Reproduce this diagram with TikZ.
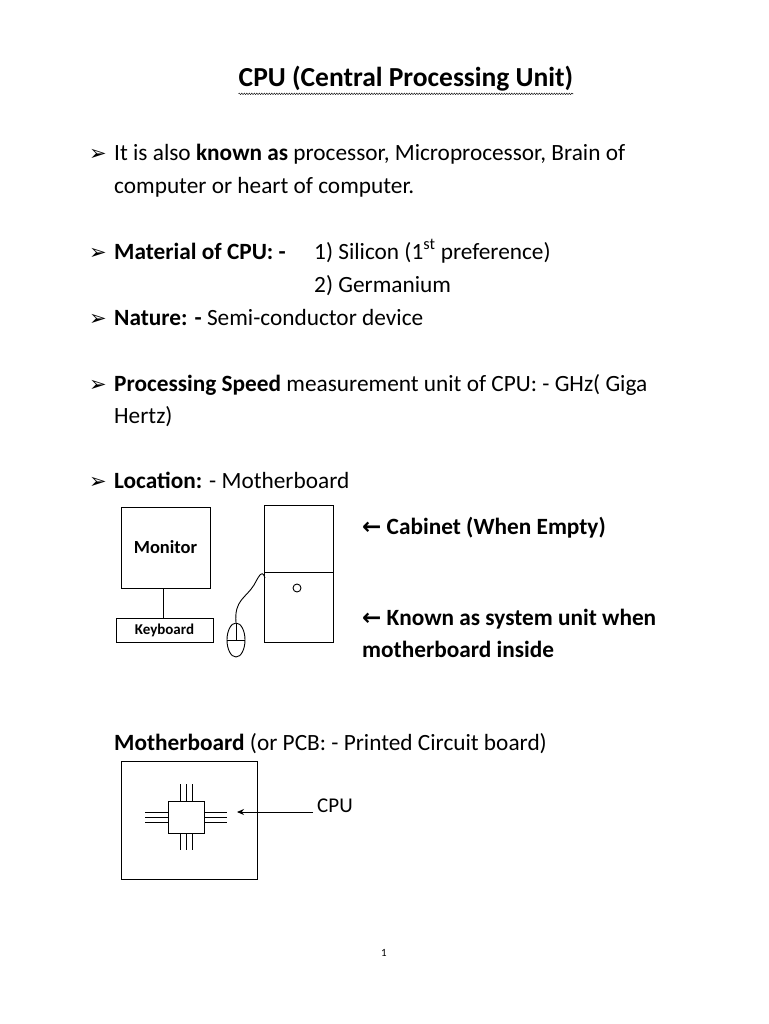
\documentclass[tikz,border=0pt]{standalone}
\usepackage{fontspec}
\setmainfont{Carlito}
\newfontfamily\dvs{DejaVu Sans}
\usetikzlibrary{arrows.meta,decorations.pathmorphing,shapes.geometric}
\begin{document}
\begin{tikzpicture}[x=1pt,y=-1pt,
  txt/.style={anchor=base west,inner sep=0pt,font=\fontsize{23.3}{26}\selectfont},
  bul/.style={anchor=base west,inner sep=0pt,font=\dvs\bfseries\fontsize{21}{22}\selectfont},
  ln/.style={line width=0.9pt}]
\useasboundingbox (0,0) rectangle (768,1024);
\node[anchor=base,inner sep=0pt,font=\fontsize{27.5}{30}\selectfont\bfseries] (title) at (406,87) {CPU (Central Processing Unit)};
\draw[decorate,decoration={snake,amplitude=0.8pt,segment length=2.5pt},line width=0.4pt] (title.south west)+(0,2) -- ([yshift=-2pt]title.south east);
\node[bul] (b1) at (89,161) {➢};
\node[txt] (t1) at (114,161) {It is also \textbf{known as} processor, Microprocessor, Brain of};
\node[txt] (t1b) at (114,194) {computer or heart of computer.};
\node[bul] (b2) at (89,259) {➢};
\node[txt] (t2) at (114,259) {\textbf{Material of CPU: -}};
\node[txt] (t2a) at (314,259) {1) Silicon (1\textsuperscript{st} preference)};
\node[txt] (t2b) at (314,292) {2) Germanium};
\node[bul] (b3) at (89,325) {➢};
\node[txt] (t3) at (114,325) {\textbf{Nature: -} Semi-conductor device};
\node[bul] (b4) at (89,391) {➢};
\node[txt] (t4) at (114,391) {\textbf{Processing Speed} measurement unit of CPU: - GHz( Giga};
\node[txt] (t4b) at (114,423) {Hertz)};
\node[bul] (b5) at (89,488) {➢};
\node[txt] (t5) at (114,488) {\textbf{Location:} - Motherboard};
\node[txt] (c1) at (362,534) {{\dvs\bfseries\fontsize{23}{24}\selectfont ←} \textbf{Cabinet (When Empty)}};
\node[txt] (c2) at (362,625) {{\dvs\bfseries\fontsize{23}{24}\selectfont ←} \textbf{Known as system unit when}};
\node[txt] (c3) at (362,657) {\textbf{motherboard inside}};
% computer
\node[draw,ln,minimum width=89,minimum height=81,inner sep=0pt] (mon) at (165.5,547.5) {\fontsize{18.5}{20}\selectfont\bfseries Monitor};
\node[draw,ln,minimum width=97,minimum height=24,inner sep=0pt] (kb) at (164.5,630) {\fontsize{15}{16}\selectfont\bfseries Keyboard};
\draw[ln] (163,588) -- (163,618);
\node[draw,ln,minimum width=69,minimum height=137,inner sep=0pt] (cab) at (298.5,573.5) {};
\draw[ln] (264,572) -- (333,572);
\node[draw,ln,circle,minimum size=8,inner sep=0pt] (btn) at (297,588) {};
\node[draw,ln,ellipse,minimum width=18,minimum height=34,inner sep=0pt] (mouse) at (236,640) {};
\draw[ln] (mouse.west) -- (mouse.east);
\draw[ln] (mouse.north) -- (mouse.center);
\draw[ln] (mouse.north) .. controls (234,600) and (246,598) .. (254,585) .. controls (258,578) and (262,568) .. (265,578);
% motherboard
\node[txt] (mb) at (114,750) {\textbf{Motherboard} (or PCB: - Printed Circuit board)};
\node[draw,ln,minimum width=136,minimum height=118,inner sep=0pt] (board) at (189,820) {};
\node[draw,ln,minimum width=36,minimum height=32,inner sep=0pt] (chip) at (186,817) {};
\foreach \d in {-5,0,5}{
  \draw[ln] (145,817+\d) -- (168,817+\d);
  \draw[ln] (204,817+\d) -- (227,817+\d);
  \draw[ln] (186+\d*1.2,784) -- (186+\d*1.2,801);
  \draw[ln] (186+\d*1.2,833) -- (186+\d*1.2,850);
}
\node[anchor=west,inner sep=0pt,font=\fontsize{21}{24}\selectfont] (cpu) at (317,806) {CPU};
\coordinate (tip) at (237,812);
\draw[ln,-{Stealth[length=7pt,width=6pt]}] (313,812) -- (tip);
\node[anchor=base,inner sep=0pt,font=\fontsize{11}{13}\selectfont] (pg) at (384,956) {1};
\end{tikzpicture}
\end{document}
